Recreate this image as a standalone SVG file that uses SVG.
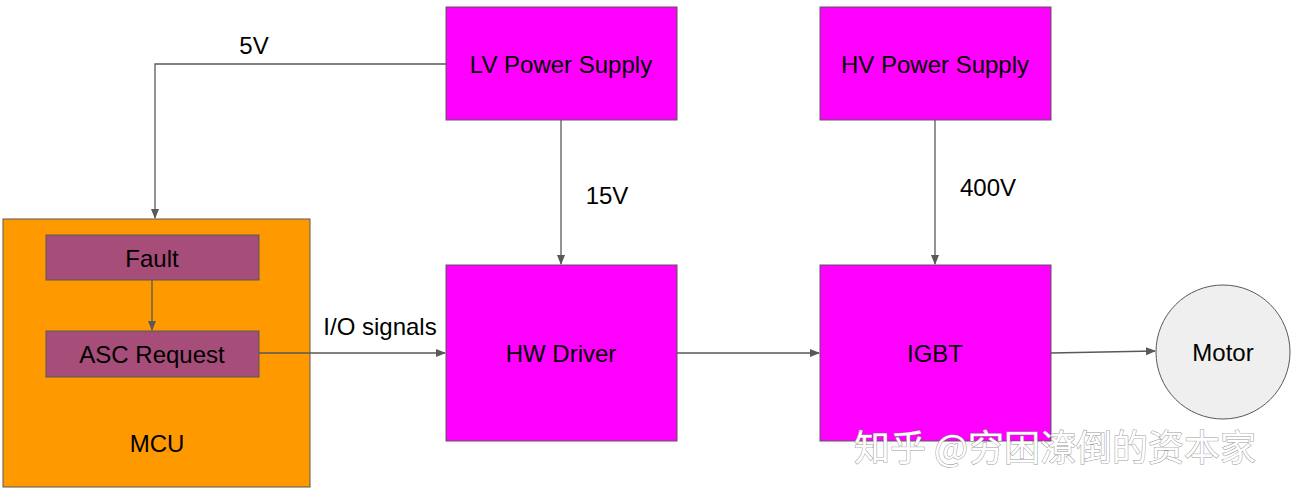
<svg xmlns="http://www.w3.org/2000/svg" width="1306" height="500" viewBox="0 0 1306 500">
<defs>
<marker id="ah" markerWidth="10" markerHeight="10" refX="9" refY="5" orient="auto" markerUnits="userSpaceOnUse"><path d="M0,1 L10,5 L0,9 Z" fill="#595959"/></marker>
<style>
text{font-family:"Liberation Sans",Arial,sans-serif;font-size:24px;fill:#000;text-anchor:middle;dominant-baseline:central}
.mag{fill:#FF00FF;stroke:#595959;stroke-width:1}
.sub{fill:#A64D79;stroke:#595959;stroke-width:1}
.c{fill:none;stroke:#595959;stroke-width:1.3;marker-end:url(#ah)}
</style>
</defs>
<rect width="1306" height="500" fill="#fff"/>
<g id="mcu"><rect x="3" y="219" width="307" height="268" fill="#FF9900" stroke="#595959"/><text x="157" y="443">MCU</text></g>
<g id="fault"><rect class="sub" x="46" y="235" width="213" height="45"/><text x="152" y="258">Fault</text></g>
<g id="asc"><rect class="sub" x="46" y="331" width="213" height="46"/><text x="152" y="354">ASC Request</text></g>
<g id="lv"><rect class="mag" x="446" y="7" width="231" height="113"/><text x="561" y="64">LV Power Supply</text></g>
<g id="hv"><rect class="mag" x="820" y="7" width="231" height="113"/><text x="935" y="64">HV Power Supply</text></g>
<g id="hw"><rect class="mag" x="446" y="265" width="231" height="176"/><text x="561" y="353">HW Driver</text></g>
<g id="igbt"><rect class="mag" x="820" y="265" width="231" height="176"/><text x="935" y="353">IGBT</text></g>
<g id="motor"><circle cx="1223" cy="352" r="67" fill="#EFEFEF" stroke="#595959"/><text x="1223" y="352">Motor</text></g>
<g id="connectors">
<path class="c" d="M446,64 H155 V218"/>
<path class="c" d="M561,120 V264"/>
<path class="c" d="M935,120 V264"/>
<path class="c" d="M152,280 V330"/>
<path class="c" d="M259,353 H445"/>
<path class="c" d="M677,353 H819"/>
<path class="c" d="M1051,353 L1155,351"/>
<text x="254" y="45">5V</text>
<text x="607" y="195">15V</text>
<text x="988" y="187">400V</text>
<text x="380" y="326">I/O signals</text>
</g>
<text x="1055" y="445" style="font-family:'Noto Sans CJK SC',sans-serif;font-size:36px;fill:#fff;stroke:#9a9a9a;stroke-width:1;paint-order:stroke">知乎 @穷困潦倒的资本家</text>
</svg>
